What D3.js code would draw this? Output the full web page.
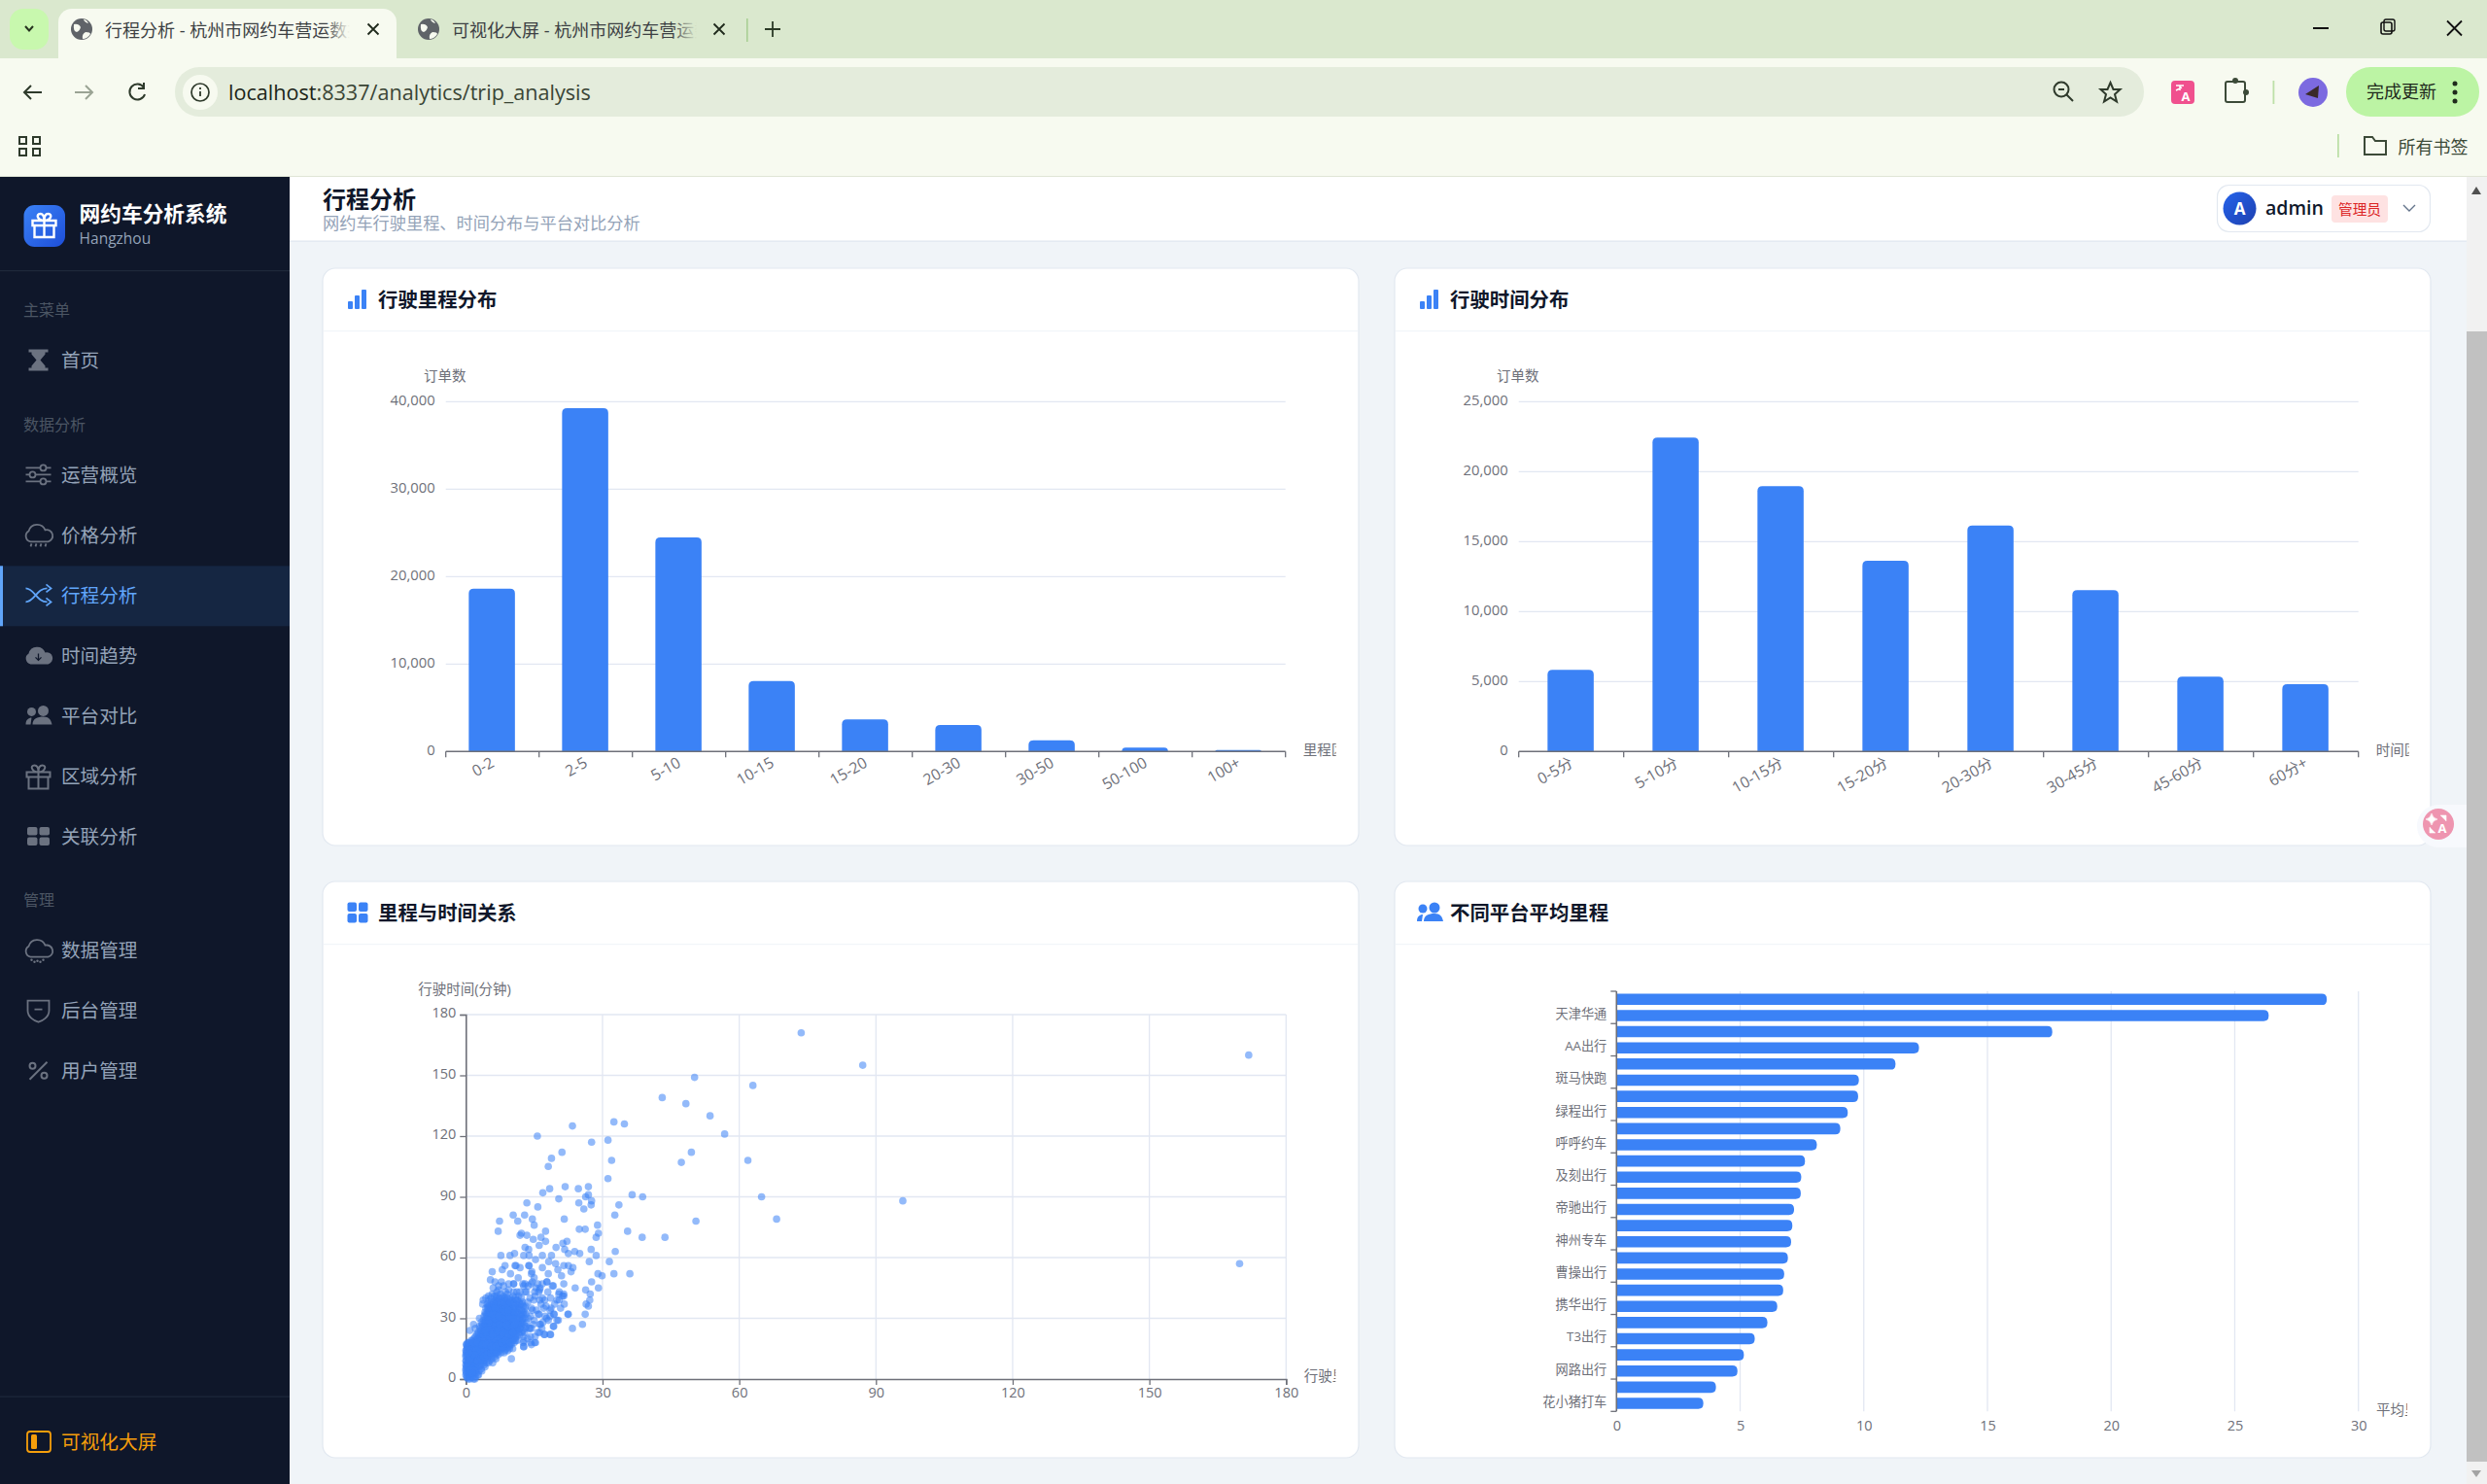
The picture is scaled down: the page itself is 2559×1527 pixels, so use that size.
<!DOCTYPE html>
<html lang="zh-CN"><head><meta charset="utf-8"><title>行程分析</title>
<script src="https://cdn.jsdelivr.net/npm/d3@7/dist/d3.min.js"></script>
<style>html,body{margin:0;padding:0;background:#f0f4f8;overflow:hidden}svg{display:block}
text{font-family:"Open Sans","Noto Sans CJK SC",sans-serif}</style></head><body>
<svg id="s" width="2559" height="1527" viewBox="0 0 2559 1527"></svg>
<script>
// ---------- DATA ----------
const distanceBins = ["0-2","2-5","5-10","10-15","15-20","20-30","30-50","50-100","100+"];
const distanceOrders = [18620,39260,24480,8070,3660,3030,1290,440,180];
const distanceTicks = [0,10000,20000,30000,40000];
const durationBins = ["0-5分","5-10分","10-15分","15-20分","20-30分","30-45分","45-60分","60分+"];
const durationOrders = [5833,22430,18958,13632,16153,11528,5347,4812];
const durationTicks = [0,5000,10000,15000,20000,25000];
const scatterTicks = [0,30,60,90,120,150,180];
const platformNames = ["花小猪打车",null,"网路出行",null,"T3出行",null,"携华出行",null,"曹操出行",null,"神州专车",null,"帝驰出行",null,"及刻出行",null,"呼呼约车",null,"绿程出行",null,"斑马快跑",null,"AA出行",null,"天津华通",null];
const platformMileage = [3.51,4.02,4.89,5.15,5.59,6.1,6.5,6.74,6.78,6.93,7.06,7.11,7.18,7.45,7.47,7.62,8.1,9.05,9.35,9.77,9.8,11.28,12.23,17.62,26.37,28.72];
const platformTicks = [0,5,10,15,20,25,30];
const scatterSparse = [[171.8,160],[169.8,57],[95.9,88],[87.1,155],[73.6,171],[50.2,149],[63,145],[43.1,139],[48.3,136],[53.6,130],[56.8,121],[23.4,125],[15.7,120],[32.5,127],[34.8,126],[31.2,118],[27.6,117],[21.1,112],[18.8,109],[18.1,105],[32,108],[49.5,112],[47.3,107],[61.9,108],[31.2,99],[64.9,90],[68.2,79],[50.5,78],[36.5,91],[38.8,90],[33.6,86],[32.7,81],[35.5,73],[38.7,70],[43.7,70],[21.8,95],[24.7,94],[26.9,95],[26.9,91],[26.3,90],[27.6,88],[27.5,86],[24.8,87],[25.9,84],[18.4,94],[16.9,92],[20.4,89],[13.4,87],[15.8,85],[10.4,81],[12.9,81],[11.4,78],[7.4,78],[7.1,73],[14.6,79],[15,76],[21.6,79],[28.9,76],[24.9,74],[26.2,74],[29.1,72],[28.6,70],[17.5,73],[12.2,72],[11.9,71],[13.4,71],[14.8,69],[16.5,70],[17.5,68],[16.1,66],[21.3,67],[22.2,68],[19.8,65],[13,65],[13.8,64],[21.7,64],[22.5,62],[23.9,63],[25,62],[27.5,64],[32.8,63],[28.6,61],[7.7,61],[9.7,61],[10.7,62],[12.7,61],[13.9,61],[16.8,61],[18.8,61],[27.1,58],[31.5,58],[15.3,59],[18.2,58],[19.7,57],[21.5,56],[22.5,56],[23.5,55],[23.1,53],[8.6,56],[10.8,56],[11.9,55],[13.8,56],[8,54],[14.5,53],[16.8,55],[20.2,54],[18.1,52],[21,51],[29,52],[29.9,51],[32.5,52],[36,52],[5.8,53],[9.8,52],[5.4,49],[11.5,50],[15,50],[6.4,48],[7.8,48],[10.5,47],[12.5,47],[14.3,47],[15.8,47],[17.8,48],[21.5,47],[27.6,48],[6,45],[24,45],[29.1,45],[26.3,44],[16.3,45],[19.2,46],[7.2,44],[9.4,44],[11.2,43],[13.3,43],[16,43],[20.4,42],[27.3,42],[21.5,41],[14.1,40],[16.8,40],[20,39],[27.2,39],[26.4,37],[26.9,36],[21.6,37],[17.6,36],[3.8,39],[3.7,37],[16.5,37],[22.4,32],[26.2,32],[15.9,32],[18.5,34],[19.3,32],[20,29],[17.7,30],[16.4,27],[25.6,27],[19.2,26],[23.4,25],[14.1,25],[15.8,23],[17.2,22],[18.6,22],[12.6,21],[14.2,21],[12.6,18],[15.1,18],[14.4,17],[12.7,16],[10,10],[1.7,27],[0.9,24],[2.1,25],[3,30],[13.1,36],[14.6,34],[12.4,38],[13.7,30],[12.9,33],[14.9,39],[11.6,41],[9.1,42],[6.7,41],[8.2,41]];
const scatterMid = [[12.7,16],[14.2,18],[15.3,18],[12.7,19],[16.2,23],[17.3,22],[18.5,22],[19.3,26],[12.3,23],[13.9,25],[13,25],[14.4,25],[16.2,27],[16.9,28],[16.1,32],[17.4,31],[18.5,31],[19.4,32],[20.3,29],[22.5,32],[18.7,35],[17.1,35],[14.4,35],[13,35],[11.6,35],[16.2,39],[17.3,39],[15.1,43],[16.2,44],[13,43],[11.9,43],[10.5,43],[8.7,43],[20.5,39],[21.2,41],[21.5,42],[20.5,43],[19,46],[18,43],[17.8,48],[14.6,48],[13,47],[10.5,47],[12.7,46],[14.4,52],[13.9,56],[11,56],[15,29],[15.5,34],[14.2,31],[13.3,28],[12.1,26],[11.4,24],[13.6,38],[15.2,41],[12.2,40],[11,39],[10.4,41],[9.7,40],[13.7,46],[15.4,45],[9.4,47],[8.3,46],[7.2,46],[6.8,43],[5.8,42],[5,41],[4.4,40],[16.8,47],[18.6,40],[19.5,37],[20.8,35],[18.1,29],[16.7,25],[15.2,21],[13.6,20],[12.9,23],[14.8,27],[13.2,32],[11.9,37]];
const scatterDense = [[.3,1],[.9,0],[1.4,1],[2.1,1],[.1,3],[.7,3],[1.2,2],[1.9,3],[2.6,2],[0,5],[.5,5],[1.1,4],[1.6,5],[2.2,4],[2.9,4],[3.4,5],[.2,7],[.8,6],[1.3,7],[2,7],[2.7,6],[3.3,7],[4,7],[.1,9],[.6,8],[1.2,9],[1.8,9],[2.5,8],[3.1,9],[3.8,9],[4.5,8],[5.2,9],[.3,11],[.9,11],[1.5,10],[2.2,11],[2.8,11],[3.5,10],[4.2,11],[4.9,11],[5.6,11],[6.4,11],[.1,13],[.7,13],[1.4,12],[2,13],[2.7,13],[3.3,12],[4,13],[4.7,13],[5.4,12],[6.1,13],[6.9,13],[7.7,13],[.2,15],[1,15],[1.6,14],[2.4,15],[3,15],[3.7,14],[4.4,15],[5,15],[5.8,14],[6.5,15],[7.2,15],[8,15],[8.8,15],[9.6,15],[.4,16],[1.2,17],[2,17],[2.7,16],[3.3,17],[4.1,17],[4.8,16],[5.5,17],[6.2,17],[6.9,16],[7.7,17],[8.5,17],[9.2,16],[10,17],[1.5,19],[2.3,18],[3,19],[3.8,19],[4.5,18],[5.2,19],[5.9,19],[6.7,18],[7.4,19],[8.1,19],[8.8,18],[9.6,19],[10.3,19],[2.1,21],[2.9,20],[3.6,21],[4.3,21],[5,20],[5.7,21],[6.5,21],[7.2,20],[7.9,21],[8.7,21],[9.4,20],[10.1,21],[10.9,21],[2.7,23],[3.4,22],[4.2,23],[4.9,23],[5.6,22],[6.3,23],[7.1,23],[7.8,22],[8.5,23],[9.2,23],[10,22],[10.7,23],[3.1,25],[3.9,24],[4.6,25],[5.3,25],[6,24],[6.8,25],[7.5,25],[8.2,24],[9,25],[9.7,25],[10.5,24],[11.2,25],[3.6,27],[4.4,26],[5.1,27],[5.8,27],[6.5,26],[7.3,27],[8,27],[8.7,26],[9.4,27],[10.2,27],[11,26],[11.8,27],[3.9,29],[4.7,28],[5.4,29],[6.1,29],[6.9,28],[7.6,29],[8.3,29],[9.1,28],[9.8,29],[10.6,29],[11.4,28],[12.3,29],[4,31],[4.8,30],[5.6,31],[6.4,31],[7.1,30],[7.9,31],[8.6,31],[9.3,30],[10.1,31],[10.9,31],[11.8,30],[4.2,33],[5,32],[5.8,33],[6.6,33],[7.4,32],[8.1,33],[8.9,33],[9.6,32],[10.4,33],[11.3,33],[4.4,35],[5.3,34],[6,35],[6.8,35],[7.6,34],[8.4,35],[9.1,35],[9.9,34],[10.8,35],[4.7,37],[5.6,36],[6.4,37],[7.2,37],[8,36],[8.8,37],[9.6,36],[6.4,39],[7.5,38],[8.3,39],[9.2,38],[.6,2],[1.7,2],[.3,4],[1.4,6],[2.4,6],[.9,8],[1.9,7],[3,7],[.5,10],[1.8,11],[2.6,10],[4,9],[.4,12],[1.1,13],[2.4,12],[3.7,12],[5,11],[.7,15],[1.9,14],[3.1,14],[4.3,13],[5.5,14],[6.8,14],[.9,16],[2.3,16],[3.7,16],[5.1,16],[6.5,17],[7.9,16],[1.8,18],[3.3,18],[4.8,18],[6.1,18],[7.6,18],[9,18],[2.6,20],[4.1,20],[5.4,20],[6.9,20],[8.3,20],[9.8,20],[3.2,22],[4.6,22],[6,22],[7.5,22],[8.9,22],[10.4,22],[3.6,24],[5,24],[6.4,24],[7.9,24],[9.3,24],[10.8,24],[4,26],[5.5,26],[6.9,26],[8.4,26],[9.9,26],[11.4,26],[4.3,28],[5.8,28],[7.2,28],[8.8,28],[10.3,28],[4.5,30],[6,30],[7.5,30],[9,30],[10.6,30],[12.1,31],[4.6,32],[6.2,32],[7.7,32],[9.3,32],[11,32],[4.9,34],[6.4,34],[7.9,34],[9.5,34],[11.2,35],[5.1,36],[6.7,36],[8.3,37],[10,37],[7,39],[8.8,39],[9.7,39],[5,39],[6,38],[10.5,38],[12.2,34],[12.8,27],[11.6,23],[11.9,25],[11.2,21],[10.6,18],[9.7,17],[8.6,16],[7.4,14],[6.2,12],[5.7,10],[4.7,10],[3.9,8],[3,6],[2.3,3],[1.7,0],[.5,0],[1,1],[0,2],[0,7],[0,11],[0,14],[.2,17],[.6,18],[1,18],[11.1,37],[11.7,38],[12.6,36],[12.1,32],[12.9,30],[13.2,26],[12.5,24],[11.8,22],[11.2,19],[10.3,15],[9.2,14],[8.4,13],[7.1,12],[6.6,10],[5.9,8],[5,8],[4.2,6],[3.5,4],[2.8,2],[2,0],[10.2,39],[9,40],[7.9,40],[6.7,40],[5.6,38],[4.9,36],[4.3,32],[3.4,28],[3,26],[2.4,22],[1.8,20],[1.2,19],[.1,17],[0,12],[0,9],[0,4],[.2,1],[.7,5],[1.5,8],[2.3,9],[3.2,11],[4.4,12],[5.2,13],[6.3,15],[7.3,16],[8.2,18],[9.3,19],[10,20],[10.8,20],[11.5,27],[12.4,28],[11.2,30],[10.2,33],[9.7,35],[8.6,35],[7.3,34],[6.1,33],[5.2,30],[4.6,27],[3.9,23],[3.1,20],[2.5,18],[2.1,15],[1.3,11],[6.9,31],[7.7,27],[8.3,23],[8,19],[7.1,24],[6.3,27],[5.9,24],[6.7,22],[5.2,22],[9.5,28],[9.1,24],[10.1,26],[8.7,30],[7.2,33],[8.4,33]];
const scatterCore = [[.4,6],[1,3],[1.6,9],[.8,12],[.2,14],[1.3,16],[2.2,8],[2.9,12],[1.7,15],[3.4,9],[2.1,5],[.6,9],[1.1,7],[.9,14],[2.8,15],[3.6,13],[4.6,14],[3.2,16],[4,15],[5.3,15],[4.5,16],[6,16],[5.7,18],[3.5,18],[2.9,17],[2.2,19],[4.2,19],[6.4,19],[5,18],[7.2,18],[8.3,17],[7,17],[9.4,17],[6.2,20],[4.8,21],[3.4,20],[2.8,22],[3.8,22],[5.3,21],[6.8,22],[8,21],[9.1,21],[7.5,20],[9.9,21],[10.5,20],[3.3,24],[4.4,23],[5.5,24],[6.6,23],[7.7,24],[8.8,24],[9.7,23],[11,22],[10.3,25],[4.2,25],[5.7,25],[7.2,25],[8.6,25],[11,24],[3.7,26],[4.8,26],[6.2,27],[7.6,26],[9.2,26],[10.6,26],[11.6,25],[4.1,28],[5.2,28],[6.6,28],[8,28],[9.5,29],[11,28],[12,28],[4.4,29],[5.8,30],[7,29],[8.5,30],[9.9,30],[11.4,30],[12.5,30],[4.7,31],[6.1,31],[7.4,31],[8.9,31],[10.5,32],[11.6,32],[12.6,32],[4.9,33],[6.9,32],[8.5,32],[9.9,33],[11.7,34],[12.5,33],[5.4,33],[7,35],[8.1,35],[9.4,36],[10.4,35],[11.5,36],[4.8,35],[5.7,35],[6.2,36],[7.5,36],[8.6,36],[10.7,36],[12.3,37],[5.2,37],[6.1,37],[7.7,38],[9,37],[10.4,37],[11.3,39],[5.5,40],[6.9,38],[8.1,38],[9.6,38],[10.9,40],[7.3,40],[8.5,40],[6.3,41],[7.6,42],[.5,7],[1.2,5],[1.8,4],[.3,8],[.9,10],[1.5,13],[2.3,14],[1.9,12],[2.6,9],[3.3,10],[3.9,11],[4.6,12],[5.5,13],[6,14],[6.7,13],[7.8,15],[8.6,14],[9.5,16],[.6,13],[.3,16],[.1,6],[.8,4],[1.4,3],[.4,18],[1.6,18],[2.6,18],[3.7,17],[4.4,17],[5.6,16],[7.2,17],[8.1,16],[6.6,16],[7.9,18],[8.7,19],[9.8,18],[10.9,19],[5.9,22],[4.3,24],[6.9,24],[8.1,23],[9.5,22],[10.3,23],[7.4,27],[8.9,27],[10.7,27],[5.1,29],[6.4,30],[8,30],[9.5,31],[10.4,30],[5.9,32],[7.2,31],[8.7,33],[10.7,33],[6.4,35],[8,33],[9.3,34]];

// ---------- HELPERS ----------
const svg = d3.select("#s");
const defs = svg.append("defs");
const AXIS="#6e7079", GRID="#e2e7f2", BLUE="#3b82f6", TXT="#6e7079", INK="#0f172a";
const el=(p,tag,a)=>{const e=p.append(tag);for(const k in a)e.attr(k,a[k]);return e;};
const rect=(p,x,y,w,h,fill,extra={})=>el(p,"rect",{x,y,width:w,height:h,fill,...extra});
const txt=(p,x,y,s,size,fill,extra={})=>el(p,"text",{x,y,"font-size":size,fill,"dominant-baseline":"central",...extra}).text(s);
const path=(p,d,x,y,a)=>el(p,"path",{d,transform:`translate(${x},${y})`,...a});
function grad(id,c1,c2){const g=el(defs,"linearGradient",{id,x1:0,y1:0,x2:1,y2:1});
 el(g,"stop",{offset:0,"stop-color":c1});el(g,"stop",{offset:1,"stop-color":c2});}
grad("gLogo","#3b82f6","#1d4ed8");grad("gAv","#2563eb","#1e40af");
function fade(id,c0,c1,op0){const g=el(defs,"linearGradient",{id,x1:0,y1:0,x2:1,y2:0});
 el(g,"stop",{offset:0,"stop-color":c0,"stop-opacity":0});el(g,"stop",{offset:1,"stop-color":c1,"stop-opacity":1});}
fade("fTab1","#f7faf0","#f7faf0");fade("fTab2","#dae8ce","#dae8ce");
function clip(id,x,y,w,h){el(el(defs,"clipPath",{id}),"rect",{x,y,width:w,height:h});}

// ---------- BROWSER CHROME ----------
const ch=svg.append("g");
rect(ch,0,0,2559,60,"#dae8ce");
rect(ch,0,60,2559,122,"#f7faf0");
rect(ch,0,181,2559,1.5,"#e0e5d6");
rect(ch,10,9,40,42,"#c8f8ae",{rx:14});
path(ch,"M-4 -2L0 2.5L4 -2",30,29,{fill:"none",stroke:"#26331f","stroke-width":2});
rect(ch,60,9,348,52,"#f7faf0",{rx:14});rect(ch,60,40,348,21,"#f7faf0");
const globe=(x,y,c)=>{el(ch,"circle",{cx:x,cy:y,r:11,fill:c});
 path(ch,"M-8 -5Q-3 -6 -1 -2Q-2 2 -5 3Q-9 2 -8 -5ZM1 10Q0 5 4 3Q9 3 9 5Q6 10 1 10ZM2 -10Q3 -7 7 -6Q5 -10 2 -10Z",x,y,{fill:"#f7faf0"});};
globe(84,30,"#5f6368");globe(441,30,"#5f6368");
clip("tab1",108,10,252,45);clip("tab2",465,10,252,45);
txt(ch,108,30.5,"行程分析 - 杭州市网约车营运数据",18,"#3c4043",{"clip-path":"url(#tab1)"});
txt(ch,465,30.5,"可视化大屏 - 杭州市网约车营运数据",18,"#3c4043",{"clip-path":"url(#tab2)"});
rect(ch,335,12,25,38,"url(#fTab1)");rect(ch,692,12,25,38,"url(#fTab2)");
const xm=(x,y,s=5.5,c="#1f2a1c")=>path(ch,`M${-s} ${-s}L${s} ${s}M${s} ${-s}L${-s} ${s}`,x,y,{stroke:c,"stroke-width":1.8,fill:"none"});
xm(384,30);xm(740,30);
rect(ch,768,19,1.6,24,"#a9cf94");
path(ch,"M-8 0H8M0 -8V8",795,30,{stroke:"#2b3a26","stroke-width":1.8});
rect(ch,2380,28,16,2,"#111");
rect(ch,2450,23,11,12,"none",{stroke:"#111","stroke-width":1.6,rx:2});rect(ch,2453,20,11,12,"none",{stroke:"#111","stroke-width":1.4,rx:2});
xm(2525.5,29,7.5,"#111");
path(ch,"M10 0H-8M-1 -7L-8 0L-1 7",33,95,{stroke:"#2e3a2b","stroke-width":2,fill:"none"});
path(ch,"M-10 0H8M1 -7L8 0L1 7",87,95,{stroke:"#9aa394","stroke-width":2,fill:"none"});
path(ch,"M7 -5A8 8 0 1 0 8 2M7 -10V-4H1",141,95,{stroke:"#2e3a2b","stroke-width":2,fill:"none"});
rect(ch,180,69,2026,51,"#e4ecdc",{rx:25});
el(ch,"circle",{cx:206,cy:95,r:18,fill:"#f7faf0"});
el(ch,"circle",{cx:206,cy:95,r:9,fill:"none",stroke:"#2e3a2b","stroke-width":1.7});
path(ch,"M0 -1V4M0 -5V-3",206,95,{stroke:"#2e3a2b","stroke-width":1.8});
const url=txt(ch,235,93.5,"",21.6,"#2a3526");
url.append("tspan").attr("fill","#1b2418").text("localhost");url.append("tspan").attr("fill","#3a4535").text(":8337/analytics/trip_analysis");
el(ch,"circle",{cx:2121,cy:92,r:7.5,fill:"none",stroke:"#2e3a2b","stroke-width":2});
path(ch,"M5 5L12 12M-3 0H3",2121,92,{stroke:"#2e3a2b","stroke-width":2});
path(ch,"M0 -10L3 -3L10 -3L4.5 2L6.5 9.5L0 5.5L-6.5 9.5L-4.5 2L-10 -3L-3 -3Z",2171.5,95,{fill:"none",stroke:"#2e3a2b","stroke-width":2});
rect(ch,2234,83,24,24,"#f0508e",{rx:4});
path(ch,"M-7 -7H1M-3 -7V-2M-7 -2L-1 -5",2246,95,{stroke:"#fff","stroke-width":1.6,fill:"none"});
txt(ch,2249,99,"A",13,"#fff",{"text-anchor":"middle","font-weight":700});
rect(ch,2290,84,20,21,"none",{stroke:"#3c4a38","stroke-width":2,rx:2});
el(ch,"circle",{cx:2300,cy:83,r:3,fill:"#3c4a38"});el(ch,"circle",{cx:2311,cy:95,r:3,fill:"#3c4a38"});
rect(ch,2338.5,83,1.8,24,"#bde0a8");
el(ch,"circle",{cx:2380,cy:95,r:15,fill:"#7c6ae0"});
path(ch,"M-8 2L6 -7L5 6Z",2380,95,{fill:"#3a2a2a"});
rect(ch,2414,69,137,51,"#bcf4a4",{rx:25});
txt(ch,2435,94,"完成更新",18,"#1f2a1c");
[-9,0,9].forEach(d=>el(ch,"circle",{cx:2526,cy:95+d,r:2.5,fill:"#1f2a1c"}));
[[20,141],[20,153],[34,141],[34,153]].forEach(([x,y])=>rect(ch,x,y,7,7,"none",{stroke:"#2e3a2b","stroke-width":2}));
rect(ch,2405,138,1.8,24,"#bde0a8");
path(ch,"M-11 -9H-3L0 -5H11V9H-11Z",2444,150,{fill:"none",stroke:"#3c4a38","stroke-width":2});
txt(ch,2467.6,151,"所有书签",18,"#3c4a38");

// ---------- SIDEBAR ----------
const sb=svg.append("g");
rect(sb,0,182,298,1345,"#0f172a");
rect(sb,24.5,211,42.5,43,"url(#gLogo)",{rx:11});
const gift=(p,x,y,c,fillBody)=>{path(p,"M-12 -5H12V0H-12ZM-10 0H10V12H-10ZM0 -5V12M0 -5C-7 -5 -9 -12 -4 -12C-1 -12 0 -8 0 -5C0 -8 1 -12 4 -12C9 -12 7 -5 0 -5",x,y,{fill:"none",stroke:c,"stroke-width":fillBody||2});};
gift(sb,45.5,232,"#fff",2.4);
txt(sb,81.6,219,"网约车分析系统",21.7,"#fff",{"font-weight":700});
txt(sb,81.6,244.5,"Hangzhou",15.5,"#94a3b8");
rect(sb,0,278,298,1.2,"#1e293b");
const IC="#6b7280";
const st=(w=2)=>({fill:"none",stroke:IC,"stroke-width":w});
const cloudD="M-8 5a6 6 0 0 1 -2 -11a9 9 0 0 1 17 -1a6 6 0 0 1 3 12z";
const iconsNav={
 hour:(g,x,y)=>path(g,"M-10 -11H10V-8H7V-6L2 0L7 6V8H10V11H-10V8H-7V6L-2 0L-7 -6V-8H-10Z",x,y,{fill:IC}),
 slid:(g,x,y)=>{path(g,"M-13 -7H13M-13 0H13M-13 7H13",x,y,st(1.8));[[5,-7],[-6,0],[5,7]].forEach(([a,b])=>el(g,"circle",{cx:x+a,cy:y+b,r:3,fill:"#0f172a",stroke:IC,"stroke-width":1.8}));},
 rain:(g,x,y)=>{path(g,cloudD,x,y+2,st(1.8));path(g,"M-7 9L-8 12M-2 9L-3 12M3 9L2 12M8 9L7 12",x,y,st(1.8));},
 shuf:(g,x,y)=>path(g,"M-13 -7C-4 -7 -2 7 9 7M-13 7C-4 7 -2 -7 9 -7M8 -11L13 -7L8 -3M8 3L13 7L8 11",x,y,{fill:"none",stroke:"#60a5fa","stroke-width":1.8}),
 dl:(g,x,y)=>{path(g,cloudD,x,y+4,{fill:IC});path(g,"M0 -2V5M-3 2L0 5L3 2",x,y,{stroke:"#0f172a","stroke-width":1.3,fill:"none"});},
 user:(g,x,y)=>users(g,x,y,IC),
 gift:(g,x,y)=>gift(g,x,y+1,IC,2),
 grid:(g,x,y)=>grid4(g,x,y,IC,10.5,8.5),
 snow:(g,x,y)=>{path(g,cloudD,x,y+2,st(1.8));[[-7,10],[-1,11],[5,10],[-4,12],[2,12]].forEach(([a,b])=>el(g,"circle",{cx:x+a,cy:y+b,r:1.2,fill:IC}));},
 shield:(g,x,y)=>path(g,"M-11 -10H11V0C11 7 4 11 0 12C-4 11 -11 7 -11 0ZM-4 -1H4",x,y,st(1.8)),
 pct:(g,x,y)=>{path(g,"M9 -9L-9 9",x,y,st(2));el(g,"circle",{cx:x-6,cy:y-5,r:3,fill:"none",stroke:IC,"stroke-width":2});el(g,"circle",{cx:x+6,cy:y+5,r:3,fill:"none",stroke:IC,"stroke-width":2});}
};
function users(g,x,y,c){el(g,"circle",{cx:x+5,cy:y-5,r:5.5,fill:c});el(g,"circle",{cx:x-7,cy:y-4,r:4.5,fill:c});
 path(g,"M-6 9C-6 3 -1 1 5 1C11 1 13 4 14 9ZM-13 9C-13 4 -10 2 -7 2L-8 9Z",x,y,{fill:c});}
function grid4(g,x,y,c,w,h){[[-1,-1],[1,-1],[-1,1],[1,1]].forEach(([a,b])=>rect(g,a<0?x-w-1:x+1,b<0?y-h-1:y+1,w,h,c,{rx:2}));}
[["主菜单",319],["数据分析",437.4],["管理",926.2]].forEach(([s,y])=>txt(sb,24,y,s,16,"#4b5563"));
rect(sb,0,582.3,298,62,"#152642");rect(sb,0,582.3,3,62,"#60a5fa");
[["首页",370.5,"hour"],["运营概览",488.4,"slid"],["价格分析",550.4,"rain"],["行程分析",612.4,"shuf",1],["时间趋势",674.4,"dl"],["平台对比",736.4,"user"],["区域分析",798.4,"gift"],["关联分析",860.4,"grid"],["数据管理",977.7,"snow"],["后台管理",1039.7,"shield"],["用户管理",1101.7,"pct"]]
 .forEach(([s,y,ic,act])=>{iconsNav[ic](sb,39.5,y);txt(sb,63,y,s,19.6,act?"#60a5fa":"#94a3b8");});
rect(sb,0,1436.5,298,1.2,"#1e293b");
rect(sb,28,1473,24,21,"none",{stroke:"#f59e0b","stroke-width":1.8,rx:3});
rect(sb,32,1476,6,15,"#f59e0b",{rx:1.5});
txt(sb,63,1483,"可视化大屏",19.7,"#f59e0b");

// ---------- HEADER ----------
const hd=svg.append("g");
rect(hd,298,182,2240,66,"#fff");rect(hd,298,247.5,2240,1.3,"#e2e8f0");
txt(hd,332,204,"行程分析",24,INK,{"font-weight":700});
txt(hd,332,229,"网约车行驶里程、时间分布与平台对比分析",17.2,"#94a3b8");
rect(hd,2281.5,190.5,219,48,"#fff",{rx:12,stroke:"#e2e8f0","stroke-width":1.2});
el(hd,"circle",{cx:2304.5,cy:214.5,r:17,fill:"url(#gAv)"});
txt(hd,2304.5,214,"A",17,"#fff",{"text-anchor":"middle","font-weight":700});
txt(hd,2331,213,"admin",19.5,INK,{"font-weight":600});
rect(hd,2399,201,58,28,"#fee2e2",{rx:4});
txt(hd,2428,214.5,"管理员",14.7,"#dc2626",{"text-anchor":"middle"});
path(hd,"M-6 -3L0 3L6 -3",2479,214,{fill:"none",stroke:"#64748b","stroke-width":1.4});

// ---------- SCROLLBAR ----------
rect(svg,2538,182,21,1345,"#f1f1f1");
rect(svg,2538,341,21,1163,"#c1c1c1");
path(svg,"M-5 4L0 -4L5 4Z",2548,196,{fill:"#505050"});
path(svg,"M-5 -3L0 4L5 -3Z",2548,1516,{fill:"#a3a3a3"});

// ---------- CARDS ----------
function card(x,y,w,h,title,icon){
 const g=svg.append("g");
 rect(g,x,y,w,h,"#fff",{rx:13,stroke:"#e2e8f0","stroke-width":1.2});
 rect(g,x+1,y+64,w-2,1.2,"#f1f5f9");
 txt(g,x+57,y+32,title,20.4,INK,{"font-weight":700});
 const cx=x+36,cy=y+32;
 if(icon==="bars"){rect(g,cx-10,cy+2,5,8,"#3b82f6",{rx:1});rect(g,cx-3,cy-4,5,14,"#3b82f6",{rx:1});rect(g,cx+4,cy-10,5,20,"#3b82f6",{rx:1});}
 if(icon==="grid")grid4(g,cx,cy,"#3b82f6",9.5,9.5);
 if(icon==="users")users(g,cx,cy,"#3b82f6");
 return g;
}

function barChart(x0,bins,vals,ticks,yMax,yName,xName){
 const L=x0, R=x0+864, T=413.3, B=773.3;
 const g=svg.append("g");
 const x=d3.scaleBand().domain(bins).range([L,R]);
 const y=d3.scaleLinear().domain([0,yMax]).range([B,T]);
 g.selectAll(".gr").data(ticks.filter(d=>d>0)).join("line").attr("x1",L).attr("x2",R).attr("y1",d=>y(d)).attr("y2",d=>y(d)).attr("stroke",GRID).attr("stroke-width",1.3);
 const ay=g.append("g").attr("transform",`translate(${L},0)`).call(d3.axisLeft(y).tickValues(ticks).tickSize(0).tickPadding(11).tickFormat(d3.format(",")));
 ay.select(".domain").remove();ay.selectAll("text").attr("fill",TXT).attr("font-size",14.8).attr("dy",".2em");
 const bw=47.5,r=5;
 g.selectAll(".bar").data(vals).join("path").attr("fill",BLUE).attr("d",(d,i)=>{
   const cx=x(bins[i])+x.bandwidth()/2-.6, t=y(d), l=cx-bw/2, rr=Math.min(r,B-t);
   return `M${l} ${B}V${t+rr}Q${l} ${t} ${l+rr} ${t}H${l+bw-rr}Q${l+bw} ${t} ${l+bw} ${t+rr}V${B}Z`;});
 const ax=g.append("g").attr("transform",`translate(0,${B})`).call(d3.axisBottom(x).tickSize(0));
 ax.select(".domain").remove();
 ax.selectAll(".tick text").attr("fill",TXT).attr("font-size",15.8).attr("y",0).attr("dy",0).attr("text-anchor","end").attr("dominant-baseline","central")
   .attr("transform","translate(0,9.5) rotate(-30)");
 g.append("line").attr("x1",L).attr("x2",R).attr("y1",B).attr("y2",B).attr("stroke",AXIS).attr("stroke-width",1.6);
 g.selectAll(".tk").data(d3.range(bins.length+1)).join("line").attr("x1",i=>L+i*x.step()).attr("x2",i=>L+i*x.step()).attr("y1",B).attr("y2",B+6).attr("stroke",AXIS).attr("stroke-width",1.3);
 txt(g,L-1,386,yName,14.5,TXT,{"text-anchor":"middle"});
 const cid="c"+Math.round(x0);clip(cid,R,740,52,60);
 txt(g,R+18,771.5,xName,14.5,TXT,{"clip-path":`url(#${cid})`});
}

card(332,276,1066,594,"行驶里程分布","bars");
card(1435,276,1066,594,"行驶时间分布","bars");
card(332,907,1066,593,"里程与时间关系","grid");
card(1435,907,1066,593,"不同平台平均里程","users");
barChart(458.7,distanceBins,distanceOrders,distanceTicks,40000,"订单数","里程区间");
barChart(1562.7,durationBins,durationOrders,durationTicks,25000,"订单数","时间区间");

// ---------- SCATTER ----------
(function(){
 const L=479.3,R=1323.3,T=1044,B=1419,g=svg.append("g");
 const x=d3.scaleLinear().domain([0,180]).range([L,R]),y=d3.scaleLinear().domain([0,180]).range([B,T]);
 scatterTicks.slice(1).forEach(v=>{
  g.append("line").attr("x1",x(v)).attr("x2",x(v)).attr("y1",T).attr("y2",B).attr("stroke",GRID).attr("stroke-width",1.3);
  g.append("line").attr("x1",L).attr("x2",R).attr("y1",y(v)).attr("y2",y(v)).attr("stroke",GRID).attr("stroke-width",1.3);});
 const ay=g.append("g").attr("transform",`translate(${L},0)`).call(d3.axisLeft(y).tickValues(scatterTicks).tickSize(6).tickPadding(4));
 const ax=g.append("g").attr("transform",`translate(0,${B})`).call(d3.axisBottom(x).tickValues(scatterTicks).tickSize(6).tickPadding(2.5));
 [ax,ay].forEach(a=>{a.select(".domain").attr("stroke",AXIS).attr("stroke-width",1.6);a.selectAll("line").attr("stroke",AXIS).attr("stroke-width",1.3);a.selectAll("text").attr("fill",TXT).attr("font-size",14.5);});
 ay.selectAll("text").attr("dy",".2em");
 g.selectAll(".pt").data(scatterSparse.concat(scatterMid,scatterDense,scatterCore)).join("circle").attr("cx",d=>x(d[0])).attr("cy",d=>y(d[1])).attr("r",3.8).attr("fill",BLUE).attr("opacity",.55);
 txt(g,478,1017,"行驶时间(分钟)",14.5,TXT,{"text-anchor":"middle"});
 clip("cS",R,1390,51,50);
 txt(g,1341.7,1415.5,"行驶里程",14.5,TXT,{"clip-path":"url(#cS)"});
})();

// ---------- PLATFORM ----------
(function(){
 const L=1663.3,R=2426.7,T=1020,B=1452.3,g=svg.append("g");
 const x=d3.scaleLinear().domain([0,30]).range([L,R]);
 const idx=d3.range(platformNames.length);
 const y=d3.scaleBand().domain(idx).range([B,T]);
 g.selectAll(".gr").data(platformTicks.slice(1)).join("line").attr("x1",d=>x(d)).attr("x2",d=>x(d)).attr("y1",T).attr("y2",B).attr("stroke",GRID).attr("stroke-width",1.3);
 const bh=11.6;
 g.selectAll(".bar").data(platformMileage).join("path").attr("fill",BLUE).attr("d",(d,i)=>{
   const t=y(i)+y.bandwidth()/2-bh/2,r=5.2,e=x(d);
   return `M${L} ${t}H${e-r}Q${e} ${t} ${e} ${t+r}V${t+bh-r}Q${e} ${t+bh} ${e-r} ${t+bh}H${L}Z`;});
 const ay=g.append("g").attr("transform",`translate(${L},0)`).call(d3.axisLeft(y).tickValues(idx.filter(i=>platformNames[i])).tickSize(0).tickPadding(10).tickFormat(i=>platformNames[i]));
 ay.select(".domain").remove();ay.selectAll("text").attr("fill",TXT).attr("font-size",13.2).attr("dy",".22em");
 g.append("line").attr("x1",L).attr("x2",L).attr("y1",T).attr("y2",B).attr("stroke",AXIS).attr("stroke-width",1.6);
 g.selectAll(".tk").data(d3.range(0,27,2)).join("line").attr("x1",L-6).attr("x2",L).attr("y1",i=>B-i*y.step()).attr("y2",i=>B-i*y.step()).attr("stroke",AXIS).attr("stroke-width",1.3);
 const ax=g.append("g").attr("transform",`translate(0,${B})`).call(d3.axisBottom(x).tickValues(platformTicks).tickSize(0).tickPadding(9));
 ax.select(".domain").remove();ax.selectAll("text").attr("fill",TXT).attr("font-size",14.5);
 clip("cP",2445,1430,32,40);
 txt(g,2445,1450,"平均里程",14.5,TXT,{"clip-path":"url(#cP)"});
})();

// floating translate widget
(function(){const g=svg.append("g");
 path(g,"M29 -22H0A22 22 0 0 0 0 22H29Z",2509,850,{fill:"#f7f9fd"});
 el(g,"circle",{cx:2509,cy:848,r:16,fill:"#ee95b0"});
 path(g,"M-7 -11Q-6 -6 -1 -5Q-6 -4 -7 1Q-8 -4 -13 -5Q-8 -6 -7 -11ZM2 -9H8V-3M-9 3V9H-3",2509,848,{fill:"#fff",stroke:"#fff","stroke-width":.6});
 txt(g,2513,852,"A",13,"#fff",{"text-anchor":"middle","font-weight":700});
})();
</script></body></html>
